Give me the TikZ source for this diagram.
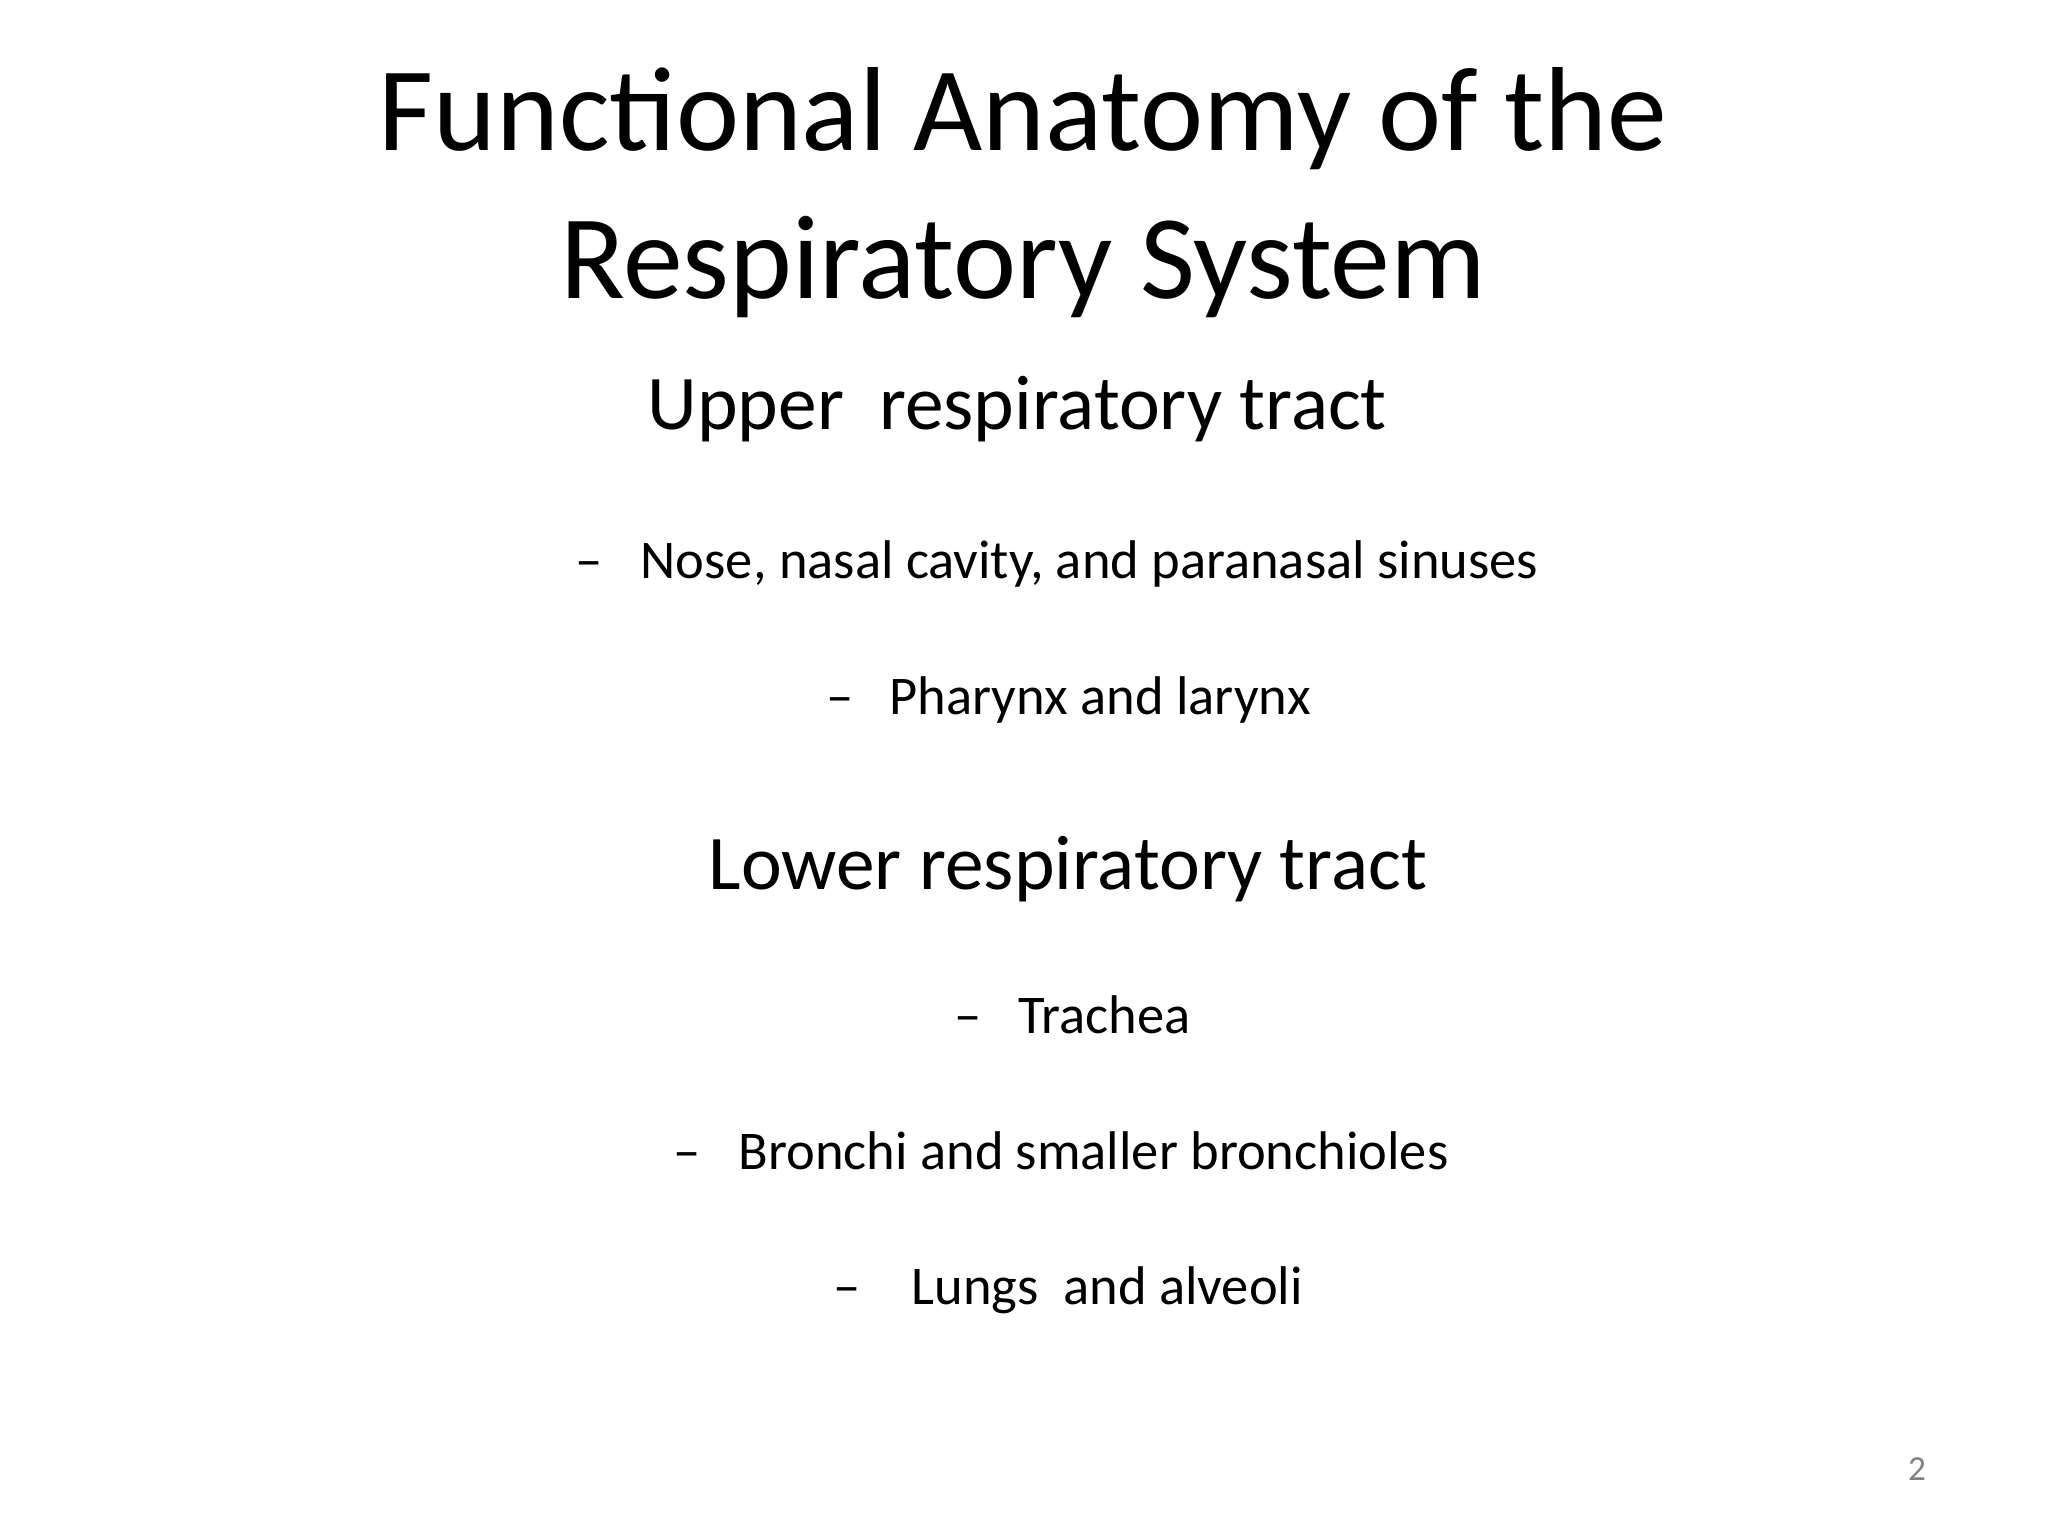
\documentclass[tikz,border=0pt]{standalone}
\usepackage{fontspec}
\setmainfont{Carlito}
\begin{document}
\begin{tikzpicture}[x=0.01cm,y=-0.01cm,
  ttl/.style={anchor=base,inner sep=0,font=\fontsize{34}{40}\selectfont},
  hd/.style={anchor=base west,inner sep=0,font=\fontsize{22}{26}\selectfont},
  bl/.style={anchor=base west,inner sep=0,font=\fontsize{15.5}{19}\selectfont}]
\useasboundingbox (0,0) rectangle (2048,1536);
\node[ttl] (t1) at (1023,150) {Functional Anatomy of the};
\node[ttl] (t2) at (1023,298) {Respiratory System};
\node[hd] (up) at (647,429) {Upper\ \ respiratory tract};
\node[bl] (d1) at (575,578) {–};
\node[bl] (b1) at (640,578) {Nose, nasal cavity, and paranasal sinuses};
\node[bl] (d2) at (826,714) {–};
\node[bl] (b2) at (889,714) {Pharynx and larynx};
\node[hd] (lo) at (708,889) {Lower respiratory tract};
\node[bl] (d3) at (954,1033) {–};
\node[bl] (b3) at (1018,1033) {Trachea};
\node[bl] (d4) at (673,1169) {–};
\node[bl] (b4) at (738,1169) {Bronchi and smaller bronchioles};
\node[bl] (d5) at (833,1304) {–};
\node[bl] (b5) at (911,1304) {Lungs\ \ and alveoli};
\node[anchor=base,inner sep=0,text=gray,font=\fontsize{10}{12}\selectfont] (pg) at (1917,1480) {2};
\end{tikzpicture}
\end{document}
